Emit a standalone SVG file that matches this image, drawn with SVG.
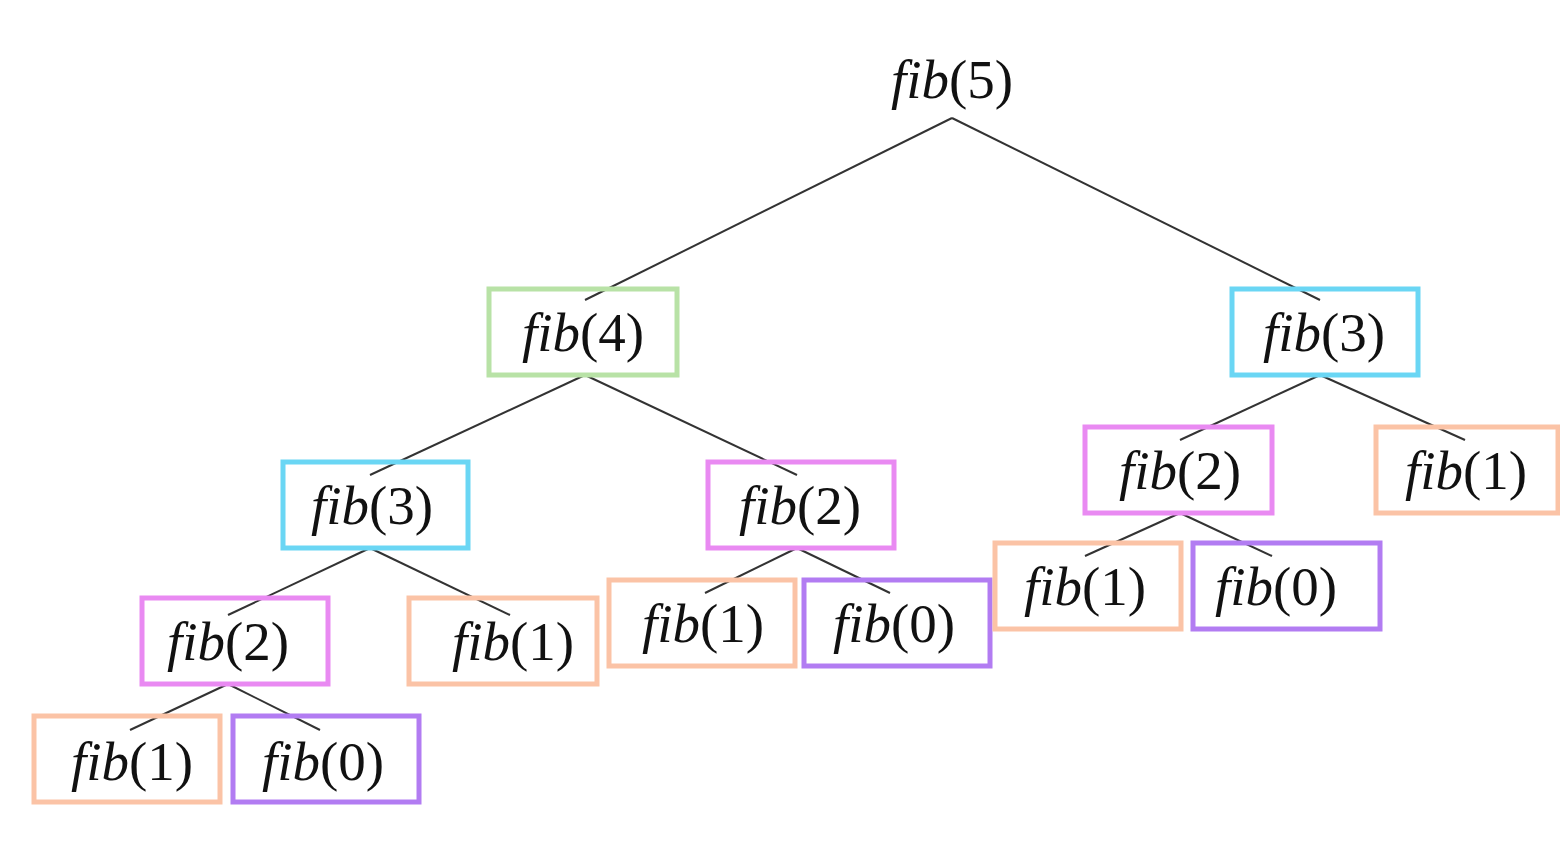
<svg xmlns="http://www.w3.org/2000/svg" width="1560" height="867" viewBox="0 0 1560 867">
<style>
.b{fill:none;stroke-width:5}
.g{stroke:#b8e2a6}.c{stroke:#6ad6f4}.m{stroke:#e98af2}.o{stroke:#fbc3a6}.p{stroke:#b27cf2}
text{font-family:"Liberation Serif","DejaVu Serif",serif;font-size:55px;fill:#111;text-anchor:middle}
.i{font-style:italic}
#e line{stroke:#333;stroke-width:2}
</style>
<rect width="1560" height="867" fill="#fff"/>
<g id="e">
<line x1="952" y1="118" x2="585" y2="300"/><line x1="952" y1="118" x2="1320" y2="300"/>
<line x1="585" y1="375" x2="370" y2="475"/><line x1="585" y1="375" x2="797" y2="475"/>
<line x1="1320" y1="375" x2="1180" y2="440"/><line x1="1320" y1="375" x2="1465" y2="440"/>
<line x1="370" y1="548" x2="228" y2="615"/><line x1="370" y1="548" x2="510" y2="615"/>
<line x1="797" y1="548" x2="705" y2="593"/><line x1="797" y1="548" x2="890" y2="593"/>
<line x1="1180" y1="513" x2="1085" y2="556"/><line x1="1180" y1="513" x2="1272" y2="556"/>
<line x1="228" y1="684" x2="130" y2="730"/><line x1="228" y1="684" x2="320" y2="730"/>
</g>
<g id="n5"><text x="952" y="98"><tspan class="i">fib</tspan>(5)</text></g>
<g id="n4"><rect class="b g" x="489" y="289" width="188" height="86"/><text x="583" y="351"><tspan class="i">fib</tspan>(4)</text></g>
<g id="n3r"><rect class="b c" x="1232" y="289" width="186" height="86"/><text x="1324" y="351"><tspan class="i">fib</tspan>(3)</text></g>
<g id="n3l"><rect class="b c" x="283" y="462" width="185" height="86"/><text x="372" y="524"><tspan class="i">fib</tspan>(3)</text></g>
<g id="n2m"><rect class="b m" x="708" y="462" width="186" height="86"/><text x="800" y="524"><tspan class="i">fib</tspan>(2)</text></g>
<g id="n2r"><rect class="b m" x="1085" y="427" width="187" height="86"/><text x="1180" y="489"><tspan class="i">fib</tspan>(2)</text></g>
<g id="n1r"><rect class="b o" x="1376" y="427" width="182" height="86"/><text x="1466" y="489"><tspan class="i">fib</tspan>(1)</text></g>
<g id="n2l"><rect class="b m" x="142" y="598" width="186" height="86"/><text x="228" y="660"><tspan class="i">fib</tspan>(2)</text></g>
<g id="n1a"><rect class="b o" x="409" y="598" width="188" height="86"/><text x="513" y="660"><tspan class="i">fib</tspan>(1)</text></g>
<g id="n1b"><rect class="b o" x="609" y="580" width="186" height="86"/><text x="703" y="642"><tspan class="i">fib</tspan>(1)</text></g>
<g id="n0b"><rect class="b p" x="804" y="580" width="186" height="86"/><text x="894" y="642"><tspan class="i">fib</tspan>(0)</text></g>
<g id="n1c"><rect class="b o" x="995" y="543" width="186" height="86"/><text x="1085" y="605"><tspan class="i">fib</tspan>(1)</text></g>
<g id="n0c"><rect class="b p" x="1193" y="543" width="187" height="86"/><text x="1276" y="605"><tspan class="i">fib</tspan>(0)</text></g>
<g id="n1d"><rect class="b o" x="34" y="716" width="186" height="86"/><text x="132" y="780"><tspan class="i">fib</tspan>(1)</text></g>
<g id="n0d"><rect class="b p" x="233" y="716" width="186" height="86"/><text x="323" y="780"><tspan class="i">fib</tspan>(0)</text></g>
</svg>
